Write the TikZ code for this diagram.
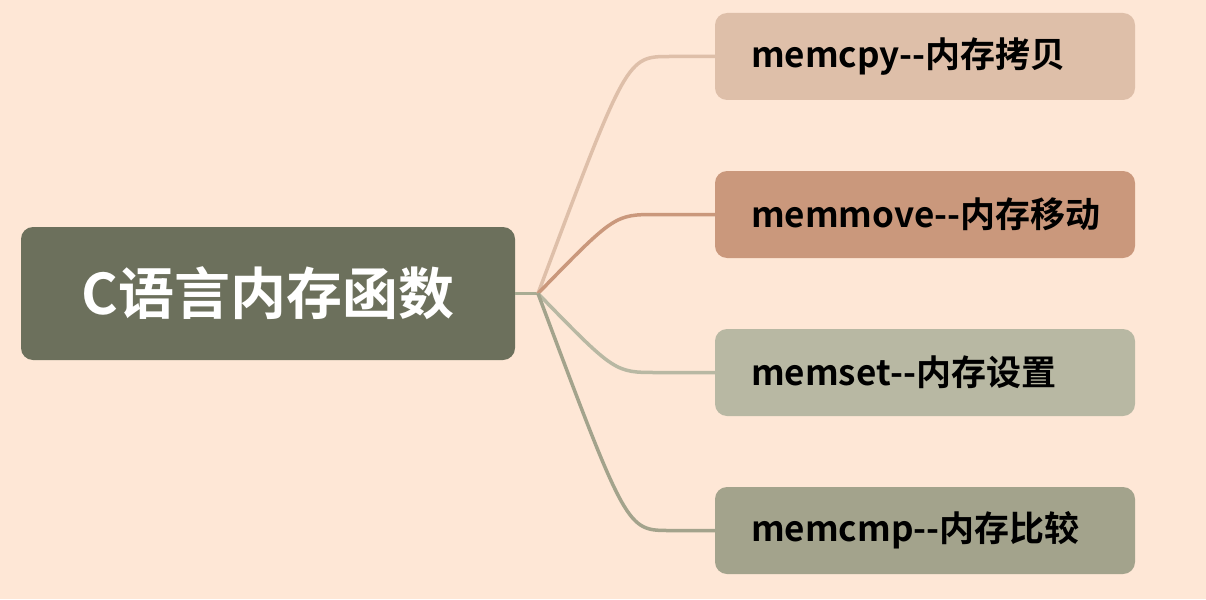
\documentclass[tikz,border=0pt]{standalone}
\usepackage{fontspec}
\setmainfont{Noto Sans CJK SC Bold}
\usetikzlibrary{calc}
\definecolor{bg}{HTML}{FEE7D6}
\definecolor{rootc}{HTML}{6C705C}
\definecolor{c1}{HTML}{DEBFA9}
\definecolor{c2}{HTML}{CA987C}
\definecolor{c3}{HTML}{B8B8A3}
\definecolor{c4}{HTML}{A3A38C}
\definecolor{cl}{HTML}{A9AC93}
\newcommand{\dd}{\mbox{-}\mbox{-}}
\begin{document}
\begin{tikzpicture}[x=1pt,y=-1pt,
  rootbox/.style={rectangle,rounded corners=12pt,fill=rootc,text=white,
    minimum width=494pt,minimum height=133pt,inner sep=0pt,
    font=\fontsize{56}{62}\selectfont},
  leafbox/.style={rectangle,rounded corners=12pt,fill=#1,text=black,
    minimum height=87pt,text width=348pt,inner xsep=36pt,inner ysep=0pt,
    align=left,font=\fontsize{35}{40}\selectfont},
  link/.style={draw=#1,line width=3.5pt}]
\fill[bg] (0,0) rectangle (1206,599);
\useasboundingbox (0,0) rectangle (1206,599);
\node[rootbox] (root) at (268,293.5) {C语言内存函数};
\node[leafbox=c1] (b1) at (925,56.5) {memcpy\dd 内存拷贝};
\node[leafbox=c2] (b2) at (925,214.5) {memmove\dd 内存移动};
\node[leafbox=c3] (b3) at (925,372.5) {memset\dd 内存设置};
\node[leafbox=c4] (b4) at (925,530.5) {memcmp\dd 内存比较};
\coordinate (j) at (538,293.5);
\draw[link=cl] (root.east) -- (j);
\draw[link=c1] (j) .. controls ($(b1.west)+(-88,0)$) .. ($(b1.west)+(-45,0)$) -- (b1.west);
\draw[link=c2] (j) .. controls ($(b2.west)+(-100,0)$) .. ($(b2.west)+(-58,0)$) -- (b2.west);
\draw[link=c3] (j) .. controls ($(b3.west)+(-100,0)$) .. ($(b3.west)+(-58,0)$) -- (b3.west);
\draw[link=c4] (j) .. controls ($(b4.west)+(-88,0)$) .. ($(b4.west)+(-45,0)$) -- (b4.west);
\end{tikzpicture}
\end{document}
